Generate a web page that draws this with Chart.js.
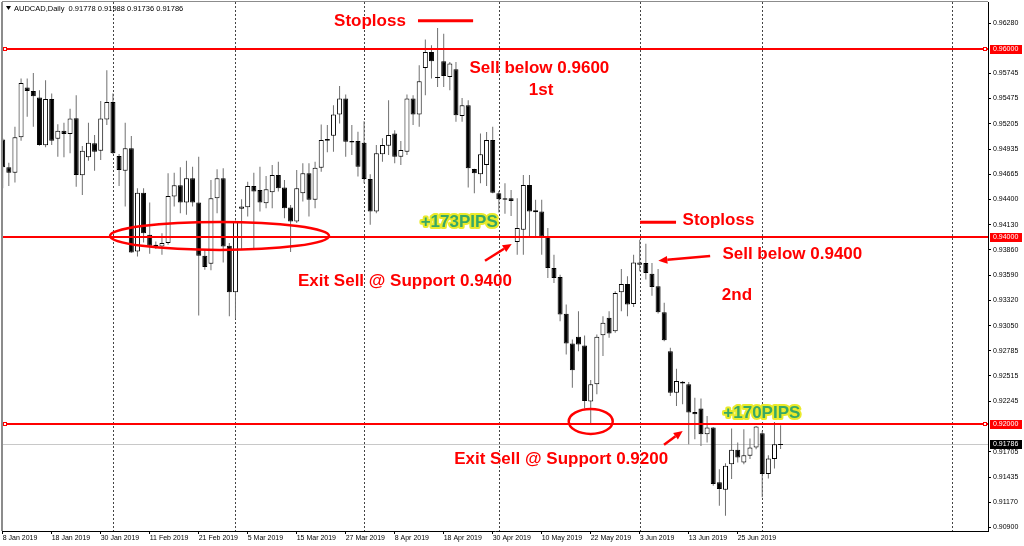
<!DOCTYPE html>
<html>
<head>
<meta charset="utf-8">
<script src="https://cdn.jsdelivr.net/npm/chart.js@4.4.0/dist/chart.umd.min.js"></script>
<style>
  html, body { margin: 0; padding: 0; background: #fff; }
  #wrap { width: 1024px; height: 546px; position: relative; }
</style>
</head>
<body>
<div id="wrap"><canvas id="chart"></canvas></div>
<script>
// AUDCAD daily candles, 8 Jan 2019 .. 4 Jul 2019 (one entry per trading day)
const opens = [
  0.95039, 0.94742, 0.94684, 0.95061, 0.95593, 0.95556, 0.95486, 0.94976, 0.95471, 0.95046,
  0.95131, 0.95096, 0.95266, 0.94656, 0.94848, 0.94997, 0.94918, 0.95252, 0.95439, 0.94862,
  0.94705, 0.94944, 0.93844, 0.94471, 0.94021, 0.93915, 0.93897, 0.93933, 0.94429, 0.94550,
  0.94365, 0.94624, 0.94365, 0.93798, 0.93713, 0.94412, 0.94624, 0.93904, 0.93408, 0.94298,
  0.94316, 0.94543, 0.94500, 0.94359, 0.94476, 0.94660, 0.94525, 0.94312, 0.94163, 0.94465,
  0.94678, 0.94394, 0.94737, 0.95043, 0.95078, 0.95305, 0.95476, 0.95021, 0.95021, 0.95003,
  0.94617, 0.94269, 0.94880, 0.94971, 0.95103, 0.94854, 0.94907, 0.95476, 0.95305, 0.95801,
  0.95971, 0.95705, 0.95872, 0.95705, 0.95787, 0.95290, 0.95404, 0.94723, 0.94667, 0.94766,
  0.95032, 0.94465, 0.94394, 0.94412, 0.93944, 0.94075, 0.94553, 0.94261, 0.94269, 0.94003,
  0.93667, 0.93571, 0.93178, 0.92862, 0.92933, 0.92841, 0.92242, 0.92426, 0.92950, 0.93135,
  0.92993, 0.93408, 0.93497, 0.93284, 0.93702, 0.93720, 0.93606, 0.93471, 0.93195, 0.92780,
  0.92337, 0.92454, 0.92426, 0.92131, 0.92167, 0.91894, 0.91965, 0.91380, 0.91301, 0.91574,
  0.91727, 0.91593, 0.91663, 0.91752, 0.91904, 0.91468, 0.91628, 0.91778
];
const highs = [
  0.95050, 0.94790, 0.95173, 0.95688, 0.95688, 0.95748, 0.95564, 0.95670, 0.95529, 0.95202,
  0.95216, 0.95365, 0.95511, 0.94968, 0.95216, 0.95085, 0.95450, 0.95777, 0.95529, 0.94883,
  0.95216, 0.95074, 0.94518, 0.94518, 0.94365, 0.93950, 0.94039, 0.94678, 0.94684, 0.94742,
  0.94812, 0.94748, 0.94854, 0.93862, 0.94606, 0.94720, 0.94731, 0.93933, 0.94173, 0.94401,
  0.94588, 0.94684, 0.94748, 0.94649, 0.94766, 0.94801, 0.94606, 0.94340, 0.94713, 0.94784,
  0.94784, 0.94801, 0.95199, 0.95192, 0.95404, 0.95610, 0.95518, 0.95192, 0.95120, 0.95234,
  0.94667, 0.94979, 0.95050, 0.95457, 0.95138, 0.95021, 0.95518, 0.95511, 0.95830, 0.96106,
  0.96043, 0.96227, 0.96167, 0.95865, 0.95865, 0.95482, 0.95457, 0.94725, 0.95103, 0.95117,
  0.95173, 0.94489, 0.94571, 0.94500, 0.94412, 0.94660, 0.94660, 0.94394, 0.94394, 0.94093,
  0.93809, 0.93596, 0.93277, 0.92904, 0.93205, 0.92947, 0.92471, 0.92957, 0.93152, 0.93205,
  0.93418, 0.93656, 0.93578, 0.93809, 0.93968, 0.93926, 0.93720, 0.93656, 0.93295, 0.92816,
  0.92593, 0.92461, 0.92450, 0.92284, 0.92274, 0.92088, 0.91970, 0.91521, 0.91585, 0.91954,
  0.91805, 0.91947, 0.91848, 0.91982, 0.91929, 0.91670, 0.92025, 0.91988
];
const lows = [
  0.94518, 0.94543, 0.94578, 0.95024, 0.95280, 0.95173, 0.94970, 0.94954, 0.94979, 0.94854,
  0.94848, 0.94890, 0.94535, 0.94447, 0.94812, 0.94705, 0.94819, 0.95192, 0.94883, 0.94543,
  0.94322, 0.93830, 0.93790, 0.93939, 0.93819, 0.93869, 0.93809, 0.93915, 0.94322, 0.94252,
  0.94234, 0.94322, 0.93160, 0.93649, 0.93642, 0.94252, 0.93727, 0.93152, 0.93125, 0.93862,
  0.94216, 0.93862, 0.94269, 0.94305, 0.94305, 0.94482, 0.94199, 0.93837, 0.94146, 0.94376,
  0.94216, 0.94305, 0.94695, 0.94901, 0.94907, 0.95210, 0.94854, 0.94872, 0.94642, 0.94571,
  0.94128, 0.94252, 0.94801, 0.94872, 0.94784, 0.94766, 0.94872, 0.95192, 0.95173, 0.95511,
  0.95688, 0.95599, 0.95599, 0.95564, 0.95227, 0.95227, 0.94525, 0.94465, 0.94571, 0.94543,
  0.94465, 0.94259, 0.94245, 0.94223, 0.93809, 0.93809, 0.94003, 0.94003, 0.93809, 0.93561,
  0.93508, 0.93099, 0.92745, 0.92390, 0.92780, 0.92167, 0.92000, 0.92319, 0.92727, 0.92922,
  0.92976, 0.93205, 0.93152, 0.93252, 0.93631, 0.93543, 0.93372, 0.93181, 0.92886, 0.92301,
  0.92195, 0.92213, 0.91787, 0.91841, 0.91769, 0.91805, 0.91344, 0.91131, 0.91025, 0.91415,
  0.91593, 0.91574, 0.91628, 0.91734, 0.91220, 0.91422, 0.91529, 0.91736
];
const closes = [
  0.94742, 0.94684, 0.95061, 0.95641, 0.95556, 0.95500, 0.94979, 0.95471, 0.95024, 0.95131,
  0.95096, 0.95263, 0.94660, 0.94918, 0.95003, 0.94907, 0.95263, 0.95439, 0.94890, 0.94713,
  0.94944, 0.93833, 0.94471, 0.94039, 0.93904, 0.93897, 0.93933, 0.94436, 0.94550, 0.94365,
  0.94624, 0.94365, 0.93798, 0.93678, 0.94412, 0.94624, 0.93897, 0.93408, 0.94163, 0.94322,
  0.94543, 0.94482, 0.94365, 0.94507, 0.94660, 0.94518, 0.94305, 0.94163, 0.94518, 0.94678,
  0.94394, 0.94737, 0.95032, 0.95024, 0.95305, 0.95476, 0.95014, 0.95007, 0.94748, 0.94617,
  0.94269, 0.94890, 0.94979, 0.95085, 0.94854, 0.94926, 0.95476, 0.95305, 0.95660, 0.95971,
  0.95872, 0.95695, 0.95716, 0.95848, 0.95298, 0.95404, 0.94731, 0.94678, 0.94880, 0.95032,
  0.94471, 0.94401, 0.94412, 0.94383, 0.94093, 0.94553, 0.94269, 0.94282, 0.94003, 0.93667,
  0.93561, 0.93170, 0.92862, 0.92575, 0.92851, 0.92248, 0.92426, 0.92933, 0.93082, 0.92968,
  0.93401, 0.93497, 0.93277, 0.93727, 0.93727, 0.93614, 0.93465, 0.93195, 0.92897, 0.92337,
  0.92461, 0.92436, 0.92125, 0.92106, 0.91894, 0.91965, 0.91362, 0.91309, 0.91557, 0.91727,
  0.91646, 0.91670, 0.91752, 0.91976, 0.91468, 0.91635, 0.91787, 0.91786
];

// axis labels
const dateLabels = [
  '8 Jan 2019', '18 Jan 2019', '30 Jan 2019', '11 Feb 2019', '21 Feb 2019', '5 Mar 2019',
  '15 Mar 2019', '27 Mar 2019', '8 Apr 2019', '18 Apr 2019', '30 Apr 2019', '10 May 2019',
  '22 May 2019', '3 Jun 2019', '13 Jun 2019', '25 Jun 2019'
];
const barsPerDateLabel = 8;
const priceTicks = [
  0.90900, 0.91170, 0.91435, 0.91705, 0.92245, 0.92515, 0.92785, 0.93050, 0.93320, 0.93590,
  0.93860, 0.94130, 0.94400, 0.94665, 0.94935, 0.95205, 0.95475, 0.95745, 0.96280
];
// bar index of each month separator (1 Feb, 1 Mar, 1 Apr, 1 May, 3 Jun, 1 Jul, ...)
const monthStarts = [18, 38, 59, 81, 104, 124, 155];

// horizontal levels
const levels = [0.96, 0.94, 0.92];
const selectedLevels = [0.96, 0.92];
const lastPrice = 0.91786;
const headerText = 'AUDCAD,Daily  0.91778 0.91988 0.91736 0.91786';

// view window
const X_MIN = -0.114, X_MAX = 160.86;
const Y_MIN = 0.90861, Y_MAX = 0.96505;

// drawings on the chart, placed in (bar index, price)
const RED = '#ff0000';
const notes = [
  { text: 'Stoploss', i: 54.1, p: 0.96249 },
  { text: 'Sell below 0.9600', i: 76.2, p: 0.95751 },
  { text: '1st', i: 85.9, p: 0.95513 },
  { text: 'Exit Sell @ Support 0.9400', i: 48.2, p: 0.93476 },
  { text: 'Stoploss', i: 111.0, p: 0.94123 },
  { text: 'Sell below 0.9400', i: 117.5, p: 0.93760 },
  { text: '2nd', i: 117.4, p: 0.93326 },
  { text: 'Exit Sell @ Support 0.9200', i: 73.7, p: 0.91577 }
];
const pipsNotes = [
  { text: '+173PIPS', i: 68.24, p: 0.94108 },
  { text: '+170PIPS', i: 117.65, p: 0.92071 }
];
const stopMarks = [
  { i1: 67.8, i2: 76.8, p: 0.96306 },
  { i1: 104.05, i2: 109.93, p: 0.94155 }
];
const arrows = [
  { i1: 78.74, p1: 0.93745, i2: 83.1, p2: 0.93924 },
  { i1: 115.5, p1: 0.93796, i2: 107.04, p2: 0.93745 },
  { i1: 107.97, p1: 0.91780, i2: 111.02, p2: 0.91929 }
];
const rings = [
  { i: 35.4, p: 0.94009, ri: 17.88, rp: 0.001493 },
  { i: 96.0, p: 0.92030, ri: 3.59, rp: 0.001333 }
];

const wickData = lows.map((l, i) => ({ x: i, y: [l, highs[i]] }));
const bodyData = opens.map((o, i) => ({ x: i, y: [o, closes[i]] }));
const bodyFill = opens.map((o, i) => (closes[i] >= o ? '#ffffff' : '#000000'));

function drawArrow(ctx, x1, y1, x2, y2) {
  const ang = Math.atan2(y2 - y1, x2 - x1);
  const len = 9, half = 4;
  const bx = x2 - len * Math.cos(ang), by = y2 - len * Math.sin(ang);
  ctx.beginPath();
  ctx.moveTo(x1, y1);
  ctx.lineTo(bx, by);
  ctx.stroke();
  ctx.beginPath();
  ctx.moveTo(x2, y2);
  ctx.lineTo(bx + half * Math.sin(ang), by - half * Math.cos(ang));
  ctx.lineTo(bx - half * Math.sin(ang), by + half * Math.cos(ang));
  ctx.closePath();
  ctx.fill();
}

function levelBox(ctx, area, py, text, bg) {
  ctx.fillStyle = bg;
  ctx.fillRect(area.right + 2, Math.round(py) - 4, 32, 9);
  ctx.fillStyle = '#ffffff';
  ctx.font = '7px "Liberation Sans", Arial, sans-serif';
  ctx.textAlign = 'left';
  ctx.textBaseline = 'middle';
  ctx.fillText(text, area.right + 5, Math.round(py) + 0.5);
}

const overlay = {
  id: 'overlay',
  beforeDatasetsDraw(chart) {
    const { ctx, chartArea: a, scales: { x, y } } = chart;
    ctx.save();
    // month separators
    ctx.strokeStyle = '#444';
    ctx.lineWidth = 1;
    ctx.setLineDash([2, 2]);
    monthStarts.forEach(i => {
      const px = Math.round(x.getPixelForValue(i)) + 0.5;
      ctx.beginPath();
      ctx.moveTo(px, a.top);
      ctx.lineTo(px, a.bottom);
      ctx.stroke();
    });
    ctx.setLineDash([]);
    // bid line
    const bp = Math.round(y.getPixelForValue(lastPrice)) + 0.5;
    ctx.strokeStyle = '#c8c8c8';
    ctx.beginPath();
    ctx.moveTo(a.left, bp);
    ctx.lineTo(a.right, bp);
    ctx.stroke();
    ctx.restore();
  },
  afterDatasetsDraw(chart) {
    const { ctx, chartArea: a, scales: { x, y } } = chart;
    ctx.save();

    // support / resistance levels
    ctx.strokeStyle = RED;
    ctx.lineWidth = 2;
    levels.forEach(lv => {
      const py = Math.round(y.getPixelForValue(lv));
      ctx.beginPath();
      ctx.moveTo(a.left, py);
      ctx.lineTo(a.right, py);
      ctx.stroke();
    });
    ctx.lineWidth = 1;
    selectedLevels.forEach(lv => {
      const py = Math.round(y.getPixelForValue(lv));
      [a.left + 1, a.right - 5].forEach(sx => {
        ctx.fillStyle = '#fff';
        ctx.fillRect(sx, py - 2, 4, 4);
        ctx.strokeRect(sx + 0.5, py - 1.5, 3, 3);
      });
    });

    // ellipses
    ctx.lineWidth = 2.5;
    rings.forEach(r => {
      const cx = x.getPixelForValue(r.i), cy = y.getPixelForValue(r.p);
      const rx = x.getPixelForValue(r.i + r.ri) - cx;
      const ry = cy - y.getPixelForValue(r.p + r.rp);
      ctx.beginPath();
      ctx.ellipse(cx, cy, rx, ry, 0, 0, Math.PI * 2);
      ctx.stroke();
    });

    // stoploss dashes
    ctx.lineWidth = 3;
    stopMarks.forEach(s => {
      const py = y.getPixelForValue(s.p);
      ctx.beginPath();
      ctx.moveTo(x.getPixelForValue(s.i1), py);
      ctx.lineTo(x.getPixelForValue(s.i2), py);
      ctx.stroke();
    });

    // arrows
    ctx.lineWidth = 2.5;
    ctx.fillStyle = RED;
    arrows.forEach(ar => {
      drawArrow(ctx, x.getPixelForValue(ar.i1), y.getPixelForValue(ar.p1),
        x.getPixelForValue(ar.i2), y.getPixelForValue(ar.p2));
    });

    // red notes
    ctx.font = 'bold 17px "Liberation Sans", Arial, sans-serif';
    ctx.textAlign = 'left';
    ctx.textBaseline = 'alphabetic';
    ctx.fillStyle = RED;
    notes.forEach(n => {
      ctx.fillText(n.text, x.getPixelForValue(n.i), y.getPixelForValue(n.p));
    });

    // pips, green with yellow halo
    ctx.lineJoin = 'round';
    pipsNotes.forEach(n => {
      const px = x.getPixelForValue(n.i), py = y.getPixelForValue(n.p);
      ctx.strokeStyle = '#eaea2a';
      ctx.lineWidth = 4;
      ctx.strokeText(n.text, px, py);
      ctx.fillStyle = '#38a865';
      ctx.fillText(n.text, px, py);
    });

    // header
    ctx.fillStyle = '#000';
    ctx.beginPath();
    ctx.moveTo(6, 6);
    ctx.lineTo(11, 6);
    ctx.lineTo(8.5, 10);
    ctx.closePath();
    ctx.fill();
    ctx.font = '7.5px "Liberation Sans", Arial, sans-serif';
    ctx.fillText(headerText, 14, 11);

    // frame
    ctx.strokeStyle = '#8c8c8c';
    ctx.lineWidth = 2;
    ctx.beginPath();
    ctx.moveTo(a.left, a.bottom);
    ctx.lineTo(a.left, a.top);
    ctx.stroke();
    ctx.lineWidth = 1;
    ctx.beginPath();
    ctx.moveTo(a.left, a.top - 0.5);
    ctx.lineTo(a.right, a.top - 0.5);
    ctx.stroke();
    ctx.restore();
  },
  afterDraw(chart) {
    const { ctx, chartArea: a, scales: { y } } = chart;
    ctx.save();
    levels.forEach(lv => levelBox(ctx, a, y.getPixelForValue(lv), lv.toFixed(5), RED));
    levelBox(ctx, a, y.getPixelForValue(lastPrice), lastPrice.toFixed(5), '#000000');
    ctx.restore();
  }
};

const axisFont = { family: '"Liberation Sans", Arial, sans-serif', size: 7 };

new Chart(document.getElementById('chart'), {
  type: 'bar',
  data: {
    datasets: [
      {
        data: wickData,
        backgroundColor: '#707070',
        barThickness: 1,
        borderWidth: 0,
        grouped: false,
        inflateAmount: 0,
        clip: 0,
        order: 2
      },
      {
        data: bodyData,
        backgroundColor: bodyFill,
        borderColor: '#000000',
        borderWidth: 1,
        borderSkipped: false,
        barThickness: 5,
        minBarLength: 1,
        grouped: false,
        inflateAmount: 0,
        clip: 0,
        order: 1
      }
    ]
  },
  options: {
    responsive: true,
    maintainAspectRatio: false,
    animation: false,
    events: [],
    layout: { padding: { left: 2, top: 2, right: 0, bottom: 0 } },
    plugins: { legend: { display: false }, tooltip: { enabled: false } },
    scales: {
      x: {
        type: 'linear',
        min: X_MIN,
        max: X_MAX,
        bounds: 'data',
        offset: false,
        grid: { display: true, drawOnChartArea: false, drawTicks: true, tickLength: 3, color: '#000', offset: false },
        border: { display: true, color: '#000' },
        ticks: {
          align: 'start',
          autoSkip: false,
          maxRotation: 0,
          padding: 0,
          color: '#000',
          font: axisFont,
          callback: v => dateLabels[Math.round(v / barsPerDateLabel)] || ''
        },
        afterBuildTicks: s => { s.ticks = dateLabels.map((_, k) => ({ value: k * barsPerDateLabel })); },
        afterFit: s => { s.height = 15; s.paddingLeft = 0; s.paddingRight = 0; }
      },
      y: {
        type: 'linear',
        position: 'right',
        min: Y_MIN,
        max: Y_MAX,
        bounds: 'data',
        grid: { display: true, drawOnChartArea: false, drawTicks: true, tickLength: 3, color: '#000' },
        border: { display: true, color: '#000' },
        ticks: {
          padding: 2,
          color: '#000',
          font: axisFont,
          callback: v => v.toFixed(5)
        },
        afterBuildTicks: s => { s.ticks = priceTicks.map(v => ({ value: v })); },
        afterFit: s => { s.width = 36; s.paddingTop = 0; s.paddingBottom = 0; }
      }
    }
  },
  plugins: [overlay]
});
</script>
</body>
</html>
